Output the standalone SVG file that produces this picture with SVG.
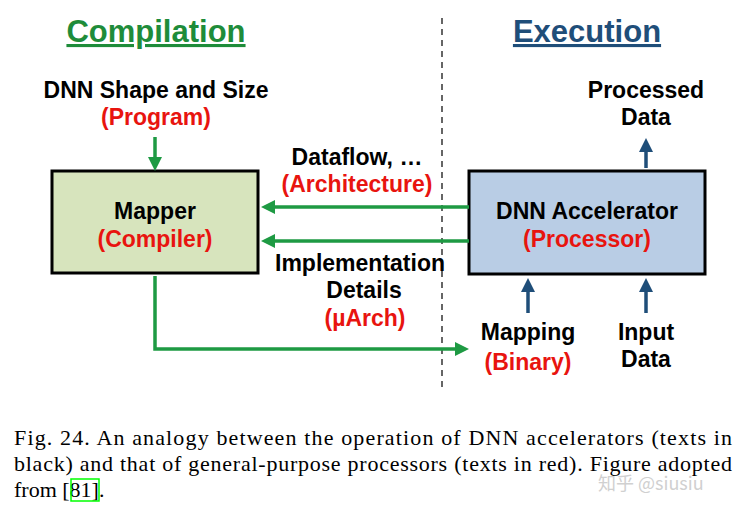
<svg xmlns="http://www.w3.org/2000/svg" width="746" height="507" viewBox="0 0 746 507">
<style>
.t{font-family:"Liberation Sans",Arial,sans-serif;font-weight:bold;font-size:23px;text-anchor:middle;fill:#000}
.r{fill:#e8140f}
.h{font-family:"Liberation Sans",Arial,sans-serif;font-weight:bold;font-size:31px;text-anchor:middle;text-decoration:underline}
.g{stroke:#1e9a43;stroke-width:3.5;fill:none}
.b{stroke:#1f4e79;stroke-width:3.5;fill:none}
.c{font-family:"Liberation Serif","Times New Roman",serif;font-size:22px;fill:#000}
</style>
<defs>
<marker id="ag" markerWidth="4" markerHeight="4" refX="2" refY="2" orient="auto"><path d="M0,0L4,2L0,4z" fill="#1e9a43"/></marker>
<marker id="ab" markerWidth="4" markerHeight="4" refX="2" refY="2" orient="auto"><path d="M0,0L4,2L0,4z" fill="#1f4e79"/></marker>
</defs>
<rect width="746" height="507" fill="#fff"/>
<text class="h" x="156" y="42" fill="#1e8c3a">Compilation</text>
<text class="h" x="587" y="42" fill="#1f4e79">Execution</text>
<line x1="442" y1="18" x2="442" y2="392" stroke="#000" stroke-width="1.2" stroke-dasharray="6,5"/>
<g id="program"><text class="t" x="156" y="98">DNN Shape and Size</text><text class="t r" x="156" y="125">(Program)</text></g>
<g id="mapper"><rect x="52" y="171" width="206" height="102" fill="#d7e4bd" stroke="#000" stroke-width="3"/><text class="t" x="155" y="219">Mapper</text><text class="t r" x="155" y="247">(Compiler)</text></g>
<g id="accelerator"><rect x="469" y="171" width="236" height="103" fill="#b9cde5" stroke="#000" stroke-width="3"/><text class="t" x="587" y="219">DNN Accelerator</text><text class="t r" x="587" y="247">(Processor)</text></g>
<g id="processed"><text class="t" x="646" y="98">Processed</text><text class="t" x="646" y="125">Data</text></g>
<g id="mapping"><text class="t" x="528" y="340">Mapping</text><text class="t r" x="528" y="370">(Binary)</text></g>
<g id="input"><text class="t" x="646" y="340">Input</text><text class="t" x="646" y="367">Data</text></g>
<g id="labels"><text class="t" x="357" y="165">Dataflow, …</text><text class="t r" x="357" y="192">(Architecture)</text>
<text class="t" x="360" y="271">Implementation</text><text class="t" x="364" y="298">Details</text><text class="t r" x="365" y="326">(µArch)</text></g>
<g id="connectors">
<path class="g" d="M155,137V164" marker-end="url(#ag)"/>
<path class="g" d="M469,207H268" marker-end="url(#ag)"/>
<path class="g" d="M469,241H268" marker-end="url(#ag)"/>
<path class="g" d="M155,276V349H462" marker-end="url(#ag)"/>
<path class="b" d="M646,168V145" marker-end="url(#ab)"/>
<path class="b" d="M528,313V285" marker-end="url(#ab)"/>
<path class="b" d="M646,313V285" marker-end="url(#ab)"/>
</g>
<g id="caption">
<text class="c" x="14" y="445" textLength="718" lengthAdjust="spacing">Fig. 24.    An analogy between the operation of DNN accelerators (texts in</text>
<text class="c" x="14" y="471" textLength="718" lengthAdjust="spacing">black) and that of general-purpose processors (texts in red). Figure adopted</text>
<text class="c" x="14" y="497">from [81].</text>
<rect x="71" y="479" width="28" height="22" fill="none" stroke="#00ff00" stroke-width="1.5"/>
<text x="598" y="490" font-family="'Noto Sans CJK SC',sans-serif" font-size="18" fill="#d0d0d0">知乎 @siusiu</text>
</g>
</svg>
